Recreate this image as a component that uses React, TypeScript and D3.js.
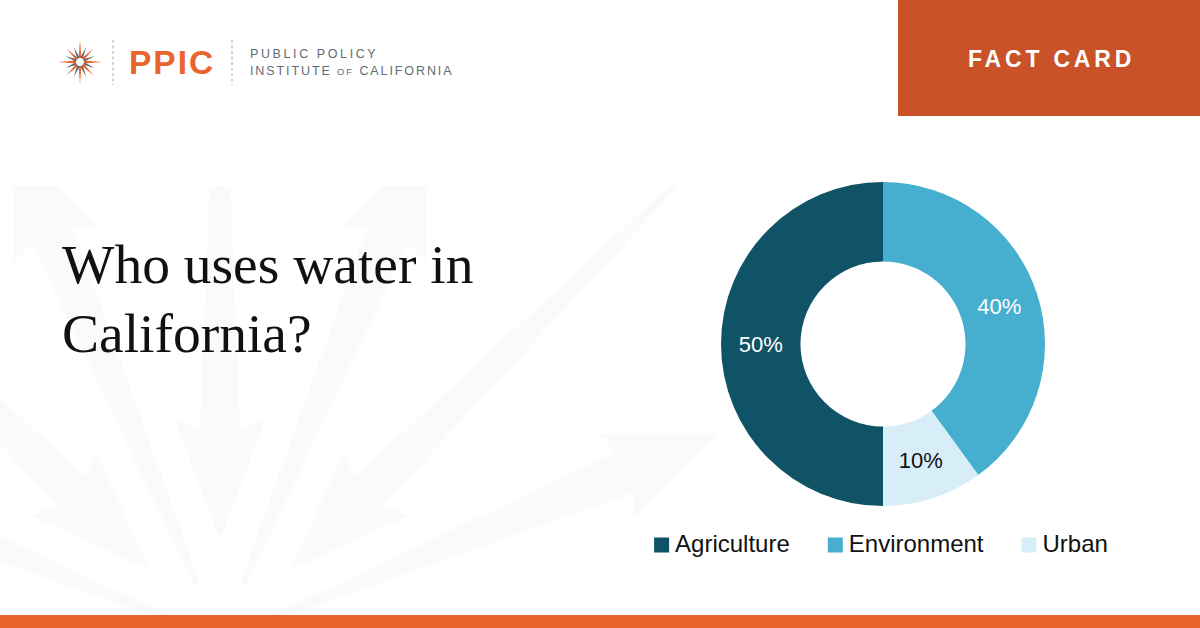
import React, { useEffect, useRef } from "react";
import * as d3 from "d3";

// slice order follows the drawing (clockwise from 12 o'clock)
const categories = ["Environment", "Urban", "Agriculture"];
const shares = [40, 10, 50];
const sliceColors = ["#46afd0", "#d7eef8", "#115366"];
const labelColors = ["#ffffff", "#111111", "#ffffff"];
const legendOrder = ["Agriculture", "Environment", "Urban"];
const titleLines = ["Who uses water in", "California?"];

// faint background starburst: ray angle (deg from vertical) and arrow direction
const burstAngles = [-67.5, -45, -22.5, 0, 22.5, 45, 67.5];
const burstKinds = ["out", "in", "out", "in", "out", "in", "out"];

const W = 1200;
const H = 628;

const sans = "'Liberation Sans', Arial, sans-serif";

export default function App() {
  const svgRef = useRef<SVGSVGElement | null>(null);

  useEffect(() => {
    const svg = d3.select(svgRef.current);
    svg.selectAll("*").remove();

    svg.append("rect").attr("width", W).attr("height", H).attr("fill", "#ffffff");

    // background starburst
    svg.append("defs")
      .append("clipPath")
      .attr("id", "burst-clip")
      .append("rect")
      .attr("x", 0)
      .attr("y", 186)
      .attr("width", 730)
      .attr("height", 429);

    const inShape = [[100, 0], [222, 46], [210, 20], [690, 1.5], [690, -1.5], [210, -20], [222, -46]];
    const outShape = [[60, 3], [438, 22], [428, 46], [540, 0], [428, -46], [438, -22], [60, -3]];
    const bx = 220;
    const by = 640;
    const burst = svg.append("g").attr("clip-path", "url(#burst-clip)");
    burstAngles.forEach((a, i) => {
      const t = (a * Math.PI) / 180;
      const shape = burstKinds[i] === "in" ? inShape : outShape;
      const pts = shape.map(([r, w]) => [
        bx + r * Math.sin(t) + w * Math.cos(t),
        by - r * Math.cos(t) + w * Math.sin(t),
      ] as [number, number]);
      burst.append("path").attr("d", d3.line()(pts) + "Z").attr("fill", "#fafafa");
    });

    // header: logo
    const logo = svg.append("g");
    const icon = logo.append("g").attr("transform", "translate(80,62)");
    d3.range(16).forEach((i) => {
      const t = (i * 22.5 * Math.PI) / 180;
      const len = i % 2 === 0 ? (i % 4 === 0 ? 22 : 19) : 16;
      const w = 1.4;
      const pts: [number, number][] = [
        [4 * Math.sin(t) + w * Math.cos(t), -4 * Math.cos(t) + w * Math.sin(t)],
        [len * Math.sin(t), -len * Math.cos(t)],
        [4 * Math.sin(t) - w * Math.cos(t), -4 * Math.cos(t) - w * Math.sin(t)],
      ];
      icon.append("path")
        .attr("d", d3.line()(pts) + "Z")
        .attr("fill", i % 2 === 0 ? "#e8652d" : "#5f6b73");
    });

    [113, 232].forEach((x) => {
      logo.append("line")
        .attr("x1", x).attr("x2", x)
        .attr("y1", 40).attr("y2", 85)
        .attr("stroke", "#a8a8a8")
        .attr("stroke-width", 1)
        .attr("stroke-dasharray", "3,2.5");
    });

    logo.append("text")
      .attr("x", 129)
      .attr("y", 74)
      .attr("font-family", sans)
      .attr("font-weight", 700)
      .attr("font-size", 33.5)
      .attr("letter-spacing", 2)
      .attr("fill", "#e8652d")
      .text("PPIC");

    logo.append("text")
      .attr("x", 250)
      .attr("y", 58)
      .attr("font-family", sans)
      .attr("font-size", 12.5)
      .attr("letter-spacing", 2.6)
      .attr("fill", "#5f6b73")
      .text("PUBLIC POLICY");

    const line2 = logo.append("text")
      .attr("x", 250)
      .attr("y", 75)
      .attr("font-family", sans)
      .attr("font-size", 12.5)
      .attr("letter-spacing", 1.9)
      .attr("fill", "#5f6b73");
    line2.append("tspan").text("INSTITUTE ");
    line2.append("tspan").attr("font-size", 9.5).text("OF");
    line2.append("tspan").text(" CALIFORNIA");

    // header: fact card tab
    svg.append("rect")
      .attr("x", 898).attr("y", 0)
      .attr("width", W - 898).attr("height", 116)
      .attr("fill", "#c95229");
    svg.append("text")
      .attr("x", 968)
      .attr("y", 67)
      .attr("font-family", sans)
      .attr("font-weight", 700)
      .attr("font-size", 23)
      .attr("letter-spacing", 3.8)
      .attr("fill", "#ffffff")
      .text("FACT CARD");

    // title
    svg.append("g")
      .selectAll("text")
      .data(titleLines)
      .join("text")
      .attr("x", 62)
      .attr("y", (_, i) => 283 + i * 69)
      .attr("font-family", "'Liberation Serif', 'Times New Roman', serif")
      .attr("font-size", 55.5)
      .attr("fill", "#111111")
      .text((d) => d);

    // donut
    const data = categories.map((c, i) => ({ key: c, value: shares[i], color: sliceColors[i], label: labelColors[i] }));
    const pie = d3.pie<any>().sort(null).value((d) => d.value);
    const arc = d3.arc<any>().innerRadius(82.5).outerRadius(162);
    const arcs = pie(data);

    const donut = svg.append("g").attr("transform", "translate(883,344)");
    donut.selectAll("path")
      .data(arcs)
      .join("path")
      .attr("d", arc)
      .attr("fill", (d) => d.data.color);

    donut.selectAll("text")
      .data(arcs)
      .join("text")
      .attr("transform", (d) => `translate(${arc.centroid(d)})`)
      .attr("text-anchor", "middle")
      .attr("dy", "0.36em")
      .attr("font-family", sans)
      .attr("font-size", 22)
      .attr("fill", (d) => d.data.label)
      .text((d) => `${d.data.value}%`);

    // legend, flowed and centred under the donut
    const color = d3.scaleOrdinal<string, string>().domain(categories).range(sliceColors);
    const legend = svg.append("g");
    const items = legend.selectAll("g")
      .data(legendOrder)
      .join("g");
    items.append("rect")
      .attr("x", 0)
      .attr("y", -14.5)
      .attr("width", 15)
      .attr("height", 15)
      .attr("fill", (d) => color(d));
    items.append("text")
      .attr("x", 21)
      .attr("y", 0)
      .attr("font-family", sans)
      .attr("font-size", 24)
      .attr("fill", "#111111")
      .text((d) => d);

    let cursor = 0;
    const offsets: number[] = [];
    items.each(function () {
      const t = (this as SVGGElement).querySelector("text") as SVGTextElement;
      offsets.push(cursor);
      cursor += 21 + t.getComputedTextLength() + 38;
    });
    const total = cursor - 38;
    items.attr("transform", (_, i) => `translate(${offsets[i]},0)`);
    legend.attr("transform", `translate(${881 - total / 2},552)`);

    // bottom band
    svg.append("rect")
      .attr("x", 0).attr("y", 615)
      .attr("width", W).attr("height", H - 615)
      .attr("fill", "#e8652b");
  }, []);

  return (
    <svg
      ref={svgRef}
      width={W}
      height={H}
      viewBox={`0 0 ${W} ${H}`}
      style={{ position: "absolute", left: 0, top: 0, display: "block" }}
      role="img"
      aria-label="Who uses water in California? Donut chart"
    />
  );
}
